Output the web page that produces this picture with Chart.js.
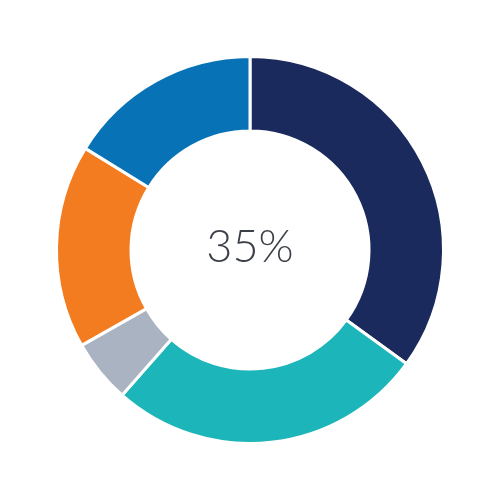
<!DOCTYPE html>
<html>
<head>
<meta charset="utf-8">
<script src="https://cdn.jsdelivr.net/npm/chart.js@4"></script>
<style>
  html, body { margin: 0; padding: 0; background: #fff; }
  #wrap { width: 500px; height: 500px; }
</style>
</head>
<body>
<div id="wrap"><canvas id="donut"></canvas></div>
<script>
// Segment values, clockwise from 12 o'clock
const segments = ["Navy", "Teal", "Gray", "Orange", "Blue"];
const shares   = [35, 26.5, 5.3, 17, 16.2];
const colors   = ["#1b2a5c", "#1cb5b9", "#a9b3c1", "#f27c1f", "#0773b6"];
const centerLabel = "35%";

// center text
const centerText = {
  id: "centerText",
  afterDraw(chart) {
    const ctx = chart.ctx;
    const meta = chart.getDatasetMeta(0).data[0];
    ctx.save();
    ctx.fillStyle = "#3b3f47";
    ctx.font = "300 45px Lato";
    ctx.textAlign = "center";
    ctx.textBaseline = "middle";
    ctx.fillText(centerLabel, meta.x, meta.y - 3);
    ctx.restore();
  }
};

new Chart(document.getElementById("donut"), {
  type: "doughnut",
  data: {
    labels: segments,
    datasets: [{
      data: shares,
      backgroundColor: colors,
      borderColor: "#ffffff",
      borderWidth: 3
    }]
  },
  options: {
    responsive: true,
    maintainAspectRatio: false,
    animation: false,
    cutout: "61.5%",
    layout: { padding: 55 },
    plugins: {
      legend: { display: false },
      tooltip: { enabled: false }
    }
  },
  plugins: [centerText]
});
</script>
</body>
</html>
